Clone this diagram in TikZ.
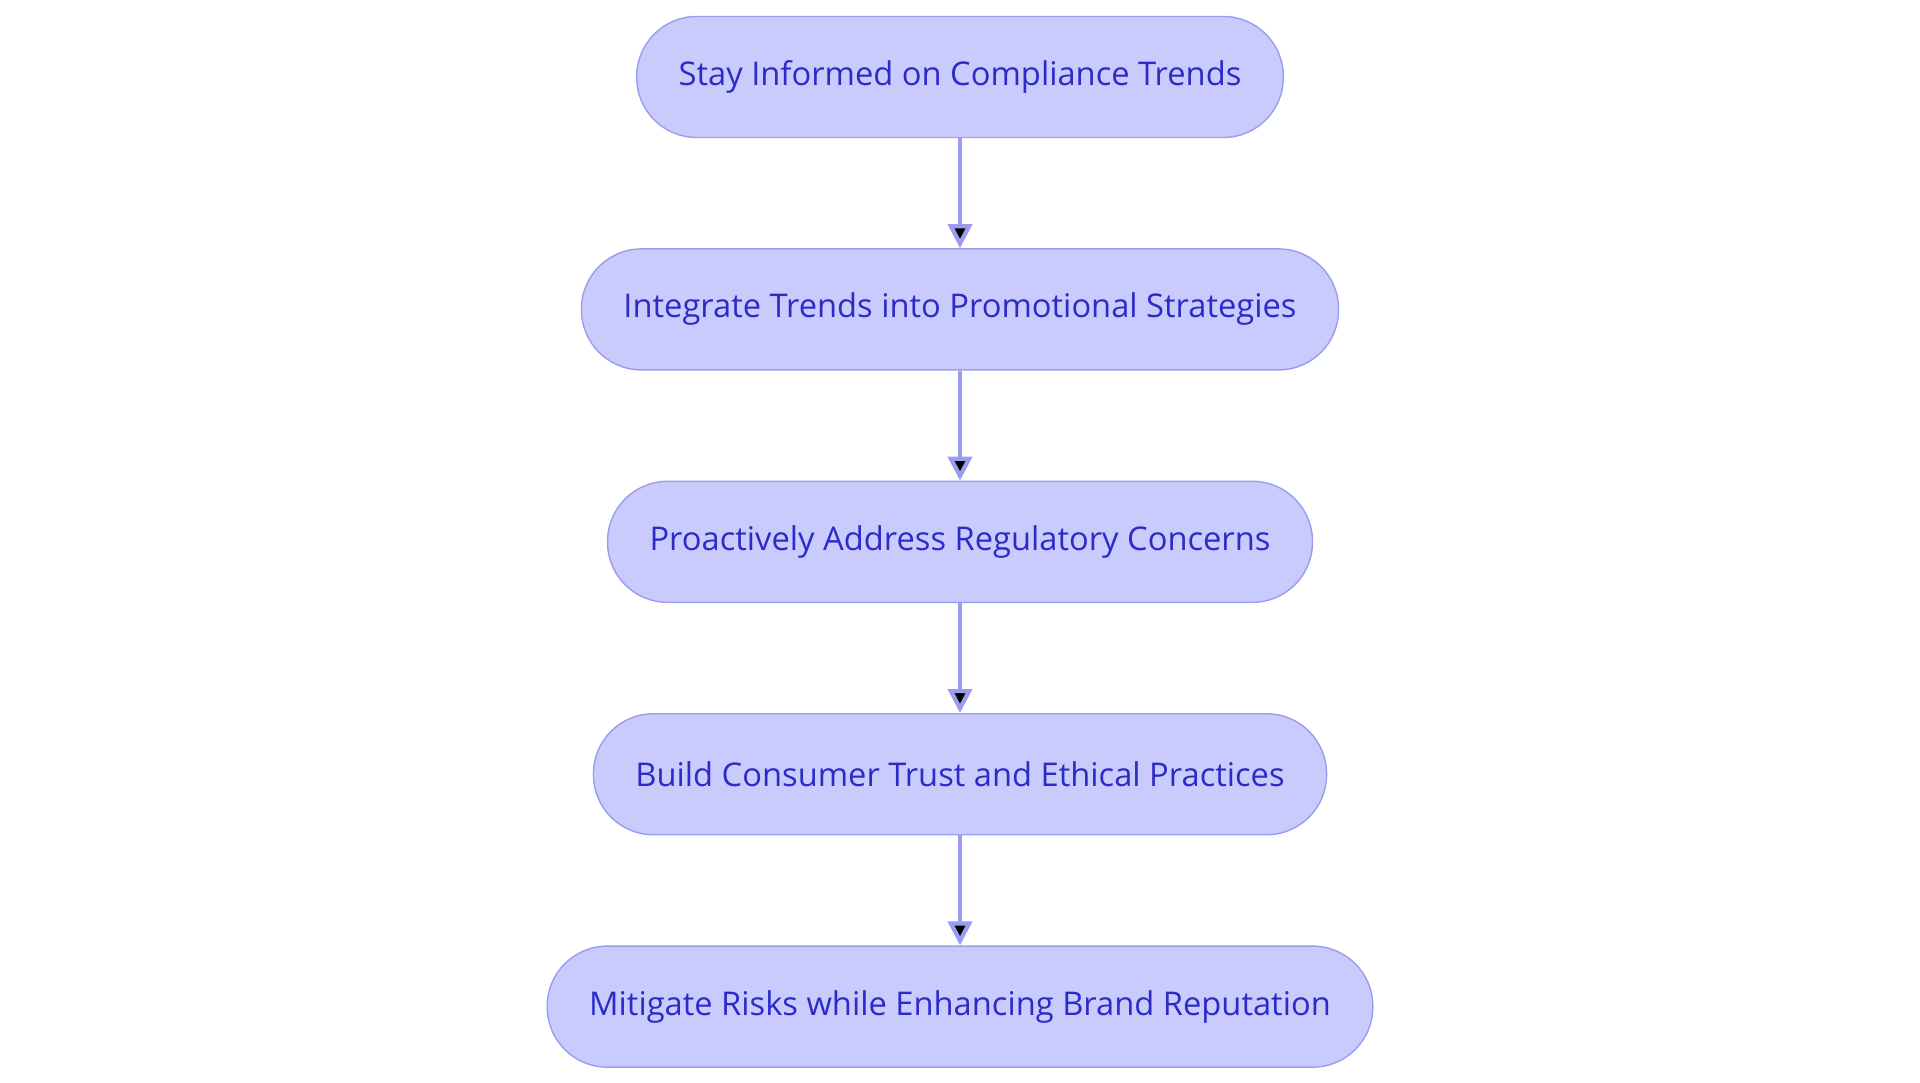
\documentclass[tikz,border=0pt]{standalone}
\usepackage{fontspec}
\setmainfont{Open Sans}
\usetikzlibrary{positioning}
\usetikzlibrary{arrows.meta}
\definecolor{stepfill}{HTML}{CACBFD}
\definecolor{stepline}{HTML}{9A9DEE}
\definecolor{steptext}{HTML}{2B2BC8}
\tikzset{step node/.style={shape=rectangle, rounded corners=0.6cm,
    draw=stepline, fill=stepfill, text=steptext, align=center,
    font=\fontsize{9.3pt}{11pt}\selectfont,
    minimum height=1.21cm, inner xsep=0.42cm}}
\tikzset{step arrow/.style={draw=stepline, line width=1.2pt,
    -{Triangle[length=0.24cm,width=0.24cm]}}}
\begin{document}
\begin{tikzpicture}[node distance=1.1cm]
    \useasboundingbox (0,0) rectangle (19.2,-10.83);
    \node[step node] (1) at (9.6,-0.77) {Stay Informed on Compliance Trends};
    \node[step node] (2) [below = of 1] {Integrate Trends into Promotional Strategies};
    \node[step node] (3) [below = of 2] {Proactively Address Regulatory Concerns};
    \node[step node] (4) [below = of 3] {Build Consumer Trust and Ethical Practices};
    \node[step node] (5) [below = of 4] {Mitigate Risks while Enhancing Brand Reputation};

    \path[step arrow]
    (1) edge (2)
    (2) edge (3)
    (3) edge (4)
    (4) edge (5)
    ;
\end{tikzpicture}
\end{document}
